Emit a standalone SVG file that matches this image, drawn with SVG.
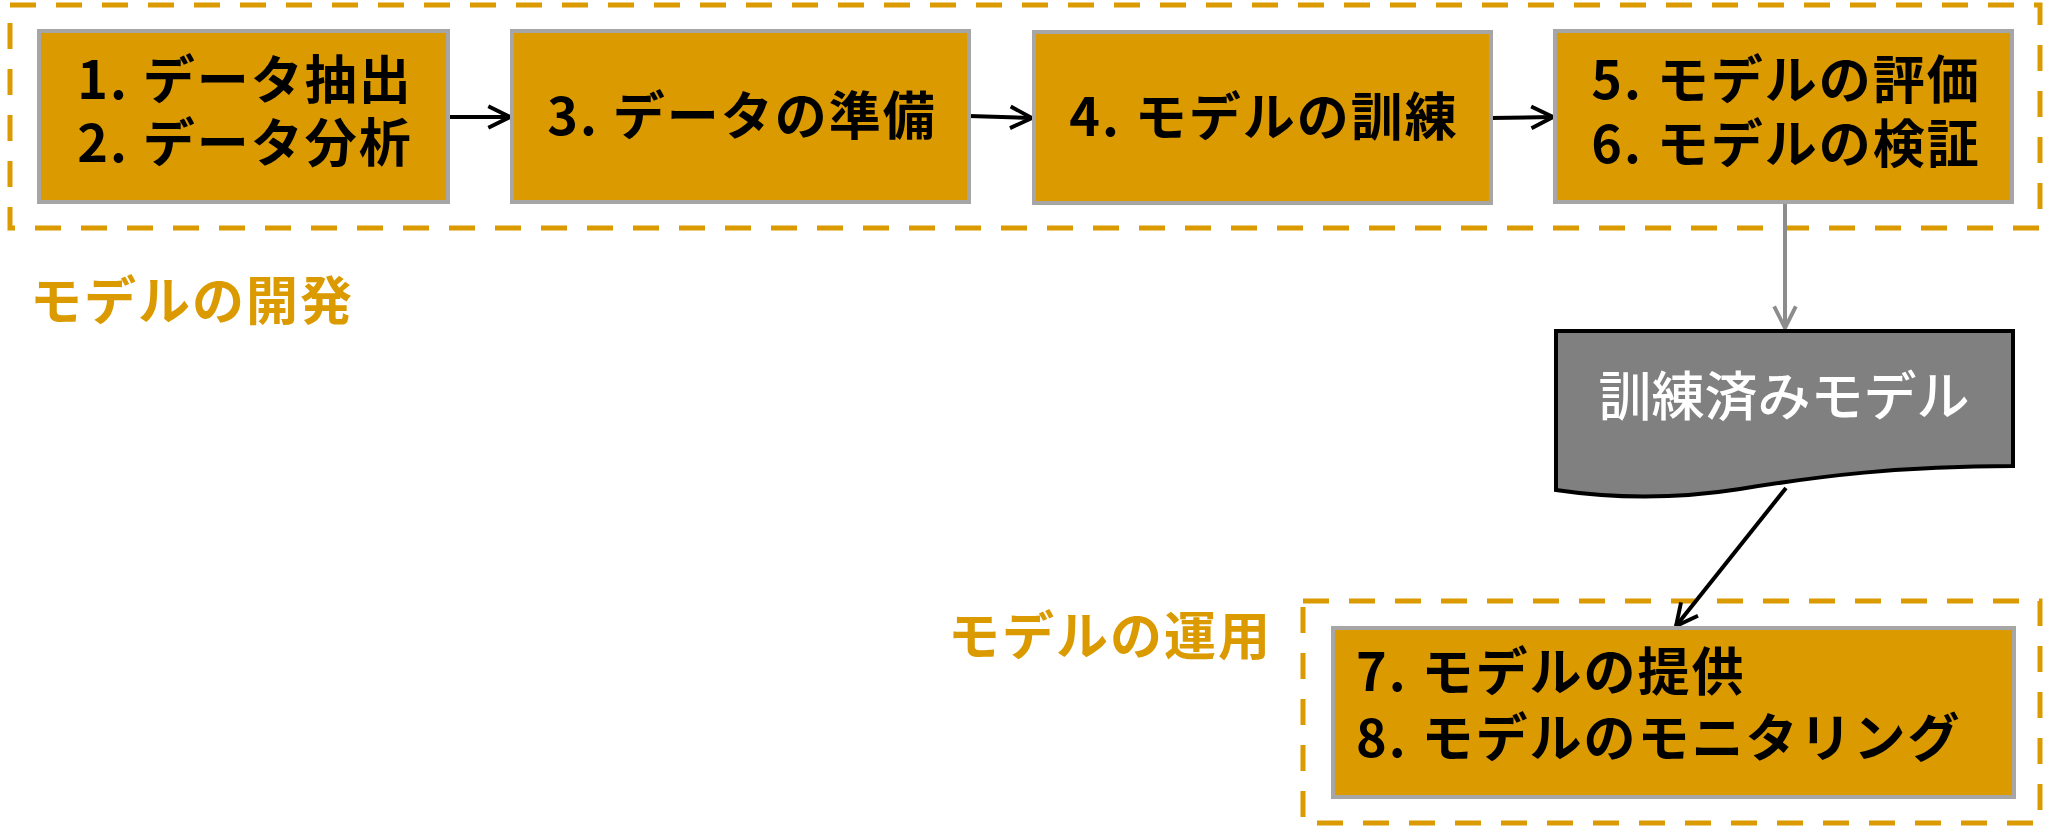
<svg xmlns="http://www.w3.org/2000/svg" width="2048" height="828" viewBox="0 0 2048 828">
<defs>
<style>
.grp{fill:none;stroke:#DA9A00;stroke-width:5;stroke-dasharray:26 20}
.box{fill:#DA9A00;stroke:#A6A6A6;stroke-width:4}
.t{font-family:"Noto Sans CJK JP","Noto Sans",sans-serif;font-weight:bold;font-size:52px;letter-spacing:2px;fill:#000}
.lbl{font-family:"Noto Sans CJK JP","Noto Sans",sans-serif;font-weight:bold;font-size:52px;letter-spacing:2px;fill:#DA9A00}
.doc{fill:#808080;stroke:#000;stroke-width:4}
.dt{font-family:"Noto Sans CJK JP","Noto Sans",sans-serif;font-weight:500;font-size:53px;fill:#fff}
.c{fill:none;stroke:#000;stroke-width:4}
.cg{fill:none;stroke:#8C8C8C;stroke-width:4}
</style>
<marker id="ah" viewBox="0 0 12 12" refX="11" refY="6" markerWidth="26" markerHeight="26" markerUnits="userSpaceOnUse" orient="auto">
<path d="M1,1 L11,6 L1,11" fill="none" stroke="#000" stroke-width="1.8"/>
</marker>
<marker id="ahg" viewBox="0 0 12 12" refX="11" refY="6" markerWidth="26" markerHeight="26" markerUnits="userSpaceOnUse" orient="auto">
<path d="M1,1 L11,6 L1,11" fill="none" stroke="#8C8C8C" stroke-width="1.8"/>
</marker>
</defs>
<rect width="2048" height="828" fill="#fff"/>
<g id="group-dev">
<rect class="grp" x="10" y="5" width="2030" height="223"/>
<text class="lbl" x="30" y="320">モデルの開発</text>
</g>
<g id="group-ops">
<rect class="grp" x="1303" y="601" width="737" height="222"/>
<text class="lbl" x="948" y="655">モデルの運用</text>
</g>
<g id="connectors">
<line class="c" x1="448" y1="117" x2="510" y2="117" marker-end="url(#ah)"/>
<line class="c" x1="969" y1="116" x2="1032" y2="118" marker-end="url(#ah)"/>
<line class="c" x1="1491" y1="118" x2="1553" y2="117" marker-end="url(#ah)"/>
<line class="cg" x1="1785" y1="203" x2="1785" y2="328" marker-end="url(#ahg)"/>
<line class="c" x1="1786" y1="488" x2="1676" y2="626" marker-end="url(#ah)"/>
</g>
<g id="n1">
<rect class="box" x="39" y="31" width="409" height="171"/>
<text class="t" text-anchor="middle"><tspan x="245" y="99">1. データ抽出</tspan><tspan x="245" y="162">2. データ分析</tspan></text>
</g>
<g id="n3">
<rect class="box" x="512" y="31" width="457" height="171"/>
<text class="t" x="742" y="135" text-anchor="middle">3. データの準備</text>
</g>
<g id="n4">
<rect class="box" x="1034" y="32" width="457" height="171"/>
<text class="t" x="1264" y="136" text-anchor="middle">4. モデルの訓練</text>
</g>
<g id="n5">
<rect class="box" x="1555" y="31" width="457" height="171"/>
<text class="t" text-anchor="middle"><tspan x="1786" y="99">5. モデルの評価</tspan><tspan x="1786" y="163">6. モデルの検証</tspan></text>
</g>
<g id="doc">
<path class="doc" d="M1556,331 L2013,331 L2013,466 C1900,466 1820,476 1740,489 C1670,500 1610,498 1556,490 Z"/>
<text class="dt" x="1784" y="416" text-anchor="middle">訓練済みモデル</text>
</g>
<g id="n7">
<rect class="box" x="1333" y="628" width="681" height="169"/>
<text class="t"><tspan x="1356" y="691">7. モデルの提供</tspan><tspan x="1356" y="757">8. モデルのモニタリング</tspan></text>
</g>
</svg>
